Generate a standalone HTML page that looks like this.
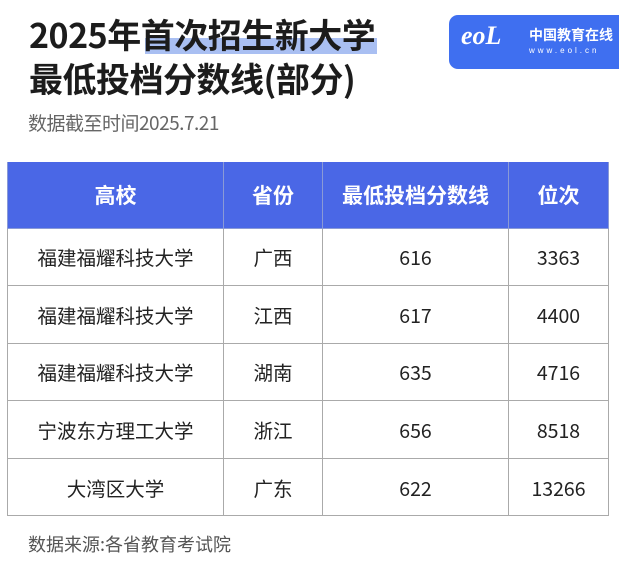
<!DOCTYPE html>
<html><head><meta charset="utf-8"><style>
*{margin:0;padding:0;box-sizing:border-box}
body{width:619px;height:565px;background:#fff;position:relative;overflow:hidden;font-family:"Noto Sans CJK SC","Liberation Sans",sans-serif}
.t{position:absolute;left:29px;font-weight:bold;font-size:34px;color:#1c1c1c;line-height:40px;letter-spacing:-0.5px;white-space:nowrap}
.hl{position:absolute;left:145px;top:38px;width:232px;height:16px;background:#a9bff2}
.sub{position:absolute;left:28px;top:110px;font-size:19px;color:#666;line-height:26px;letter-spacing:-0.5px}
.logo{position:absolute;left:449px;top:15px;width:190px;height:54px;background:#3f6ff0;border-radius:9px;color:#fff}
table{position:absolute;left:7px;top:162px;width:602px;border-collapse:collapse;font-size:19.5px;color:#222;table-layout:fixed}
td,th{border:1px solid #aaa;text-align:center;font-weight:normal;padding:0}
th{background:#4a67e6;color:#fff;font-weight:bold;height:66px;font-size:21px;border-color:#8a9ad6;border-top:none}
td{height:57.6px}
.src{position:absolute;left:28px;top:531px;font-size:18px;color:#555}
</style></head><body>
<div class="hl"></div>
<div class="t" style="top:14px">2025年首次招生新大学</div>
<div class="t" style="top:58px">最低投档分数线(部分)</div>
<div class="sub">数据截至时间2025.7.21</div>
<div class="logo">
<div style="position:absolute;left:12px;top:6px;font-size:26px;font-weight:bold;font-style:italic;font-family:'Liberation Serif',serif">eoL</div>
<div style="position:absolute;left:80px;top:11px;font-size:14px;font-weight:bold;line-height:18px">中国教育在线</div>
<div style="position:absolute;left:80px;top:31px;font-size:8px;letter-spacing:3px;font-family:'Liberation Sans'">www.eol.cn</div>
</div>
<table>
<tr><th style="width:216px">高校</th><th style="width:99px">省份</th><th style="width:186px">最低投档分数线</th><th>位次</th></tr>
<tr><td>福建福耀科技大学</td><td>广西</td><td>616</td><td>3363</td></tr>
<tr><td>福建福耀科技大学</td><td>江西</td><td>617</td><td>4400</td></tr>
<tr><td>福建福耀科技大学</td><td>湖南</td><td>635</td><td>4716</td></tr>
<tr><td>宁波东方理工大学</td><td>浙江</td><td>656</td><td>8518</td></tr>
<tr><td>大湾区大学</td><td>广东</td><td>622</td><td>13266</td></tr>
</table>
<div class="src">数据来源:各省教育考试院</div>
</body></html>
